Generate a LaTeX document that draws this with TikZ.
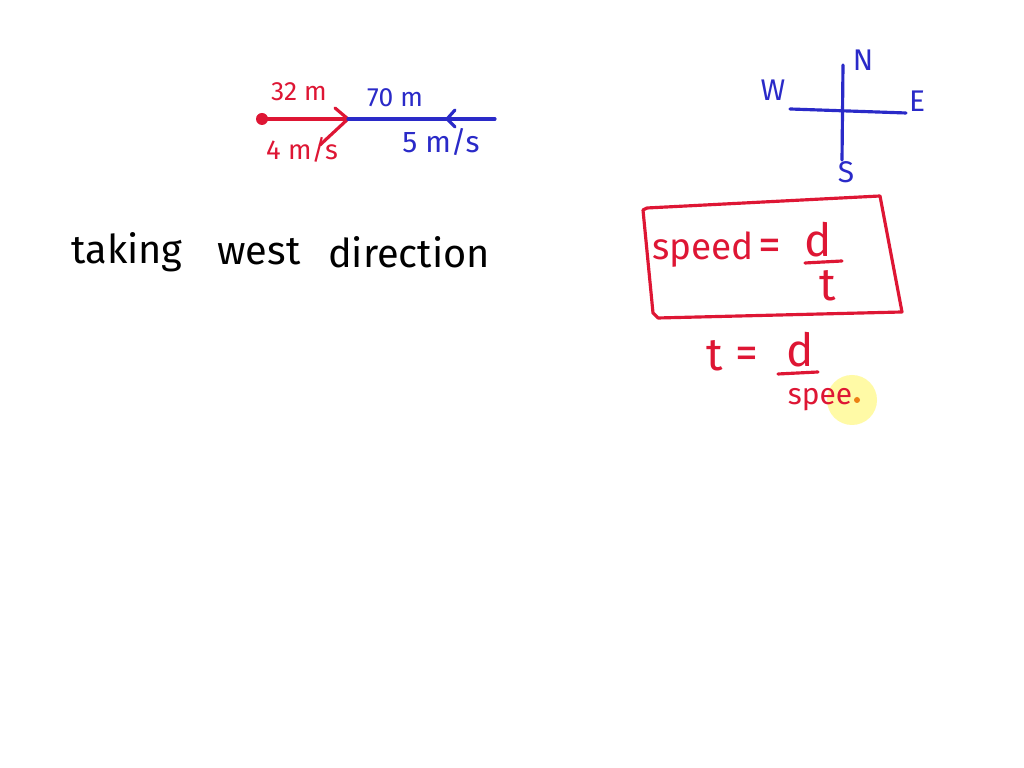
\documentclass[tikz,border=0pt]{standalone}
\usepackage{fontspec}
\setmainfont{Fira Sans}
\definecolor{penred}{RGB}{222,22,52}
\definecolor{penblue}{RGB}{42,42,200}
\begin{document}
\begin{tikzpicture}[x=0.01cm,y=-0.01cm,line width=0.9pt,line cap=round,line join=round,
  redink/.style={draw=penred,text=penred},
  blueink/.style={draw=penblue,text=penblue},
  small/.style={font=\fontsize{7.5}{9}\selectfont,inner sep=0pt},
  mid/.style={font=\fontsize{8.5}{10}\selectfont,inner sep=0pt},
  big/.style={font=\fontsize{13}{15}\selectfont,inner sep=0pt},
  word/.style={font=\fontsize{11.3}{13}\selectfont,inner sep=0pt,text=black}]
\useasboundingbox[fill=white] (0,0) rectangle (1024,768);
% top motion diagram
\coordinate (start) at (262,119);
\coordinate (meet) at (348,119);
\coordinate (bend) at (495,119);
\coordinate (bv) at (447,119);
\fill[penred] (start) circle (6);
\draw[redink] (start) -- (meet);
\draw[redink] (335,108) -- (meet) -- (320,145);
\draw[blueink] (meet) -- (bend);
\draw[blueink] (455,110) -- (bv) -- (455,127);
\node[redink,small,draw=none] (d32) at (299,92) {32 m};
\node[blueink,small,draw=none] (d70) at (395,98) {70 m};
\node[redink,font=\fontsize{7.8}{9}\selectfont,inner sep=0pt,draw=none] (v4) at (302,150) {4 m/s};
\node[blueink,mid,draw=none] (v5) at (441,142) {5 m/s};
% words
\node[word] (w1) at (127,252) {taking};
\node[word] (w2) at (259,252) {west};
\node[word] (w3) at (409,252) {direction};
% compass
\coordinate (cw) at (790,109);
\coordinate (ce) at (906,113);
\coordinate (cn) at (843,65);
\coordinate (cs) at (842,160);
\draw[blueink] (cw) -- (ce);
\draw[blueink] (cn) -- (cs);
\node[blueink,mid,draw=none] (W) at (773,90) {W};
\node[blueink,mid,draw=none] (N) at (863,60) {N};
\node[blueink,mid,draw=none] (E) at (917,101) {E};
\node[blueink,mid,draw=none] (S) at (846,172) {S};
% box
\draw[redink] (647,208) -- (880,196) -- (902,312) -- (658,318) -- (653,313) -- (643,210) -- cycle;
\node[redink,font=\fontsize{10.5}{12}\selectfont,inner sep=0pt,draw=none] (sp) at (703,250) {speed};
\node[redink,big,draw=none] (eq1) at (770,250) {=};
\node[redink,big,draw=none] (dd1) at (818,240) {d};
\draw[redink] (805,263) -- (842,261);
\node[redink,big,draw=none] (tt1) at (828,286) {t};
% second formula
\fill[yellow!35] (852,400) circle (25);
\node[redink,big,draw=none] (tt2) at (715,356) {t};
\node[redink,big,draw=none] (eq2) at (747,358) {=};
\node[redink,big,draw=none] (dd2) at (800,350) {d};
\draw[redink] (778,374) -- (818,372);
\node[redink,mid,draw=none] (sp2) at (820,400) {spee};
\fill[orange!70!brown] (857,400) circle (3);
\end{tikzpicture}
\end{document}
